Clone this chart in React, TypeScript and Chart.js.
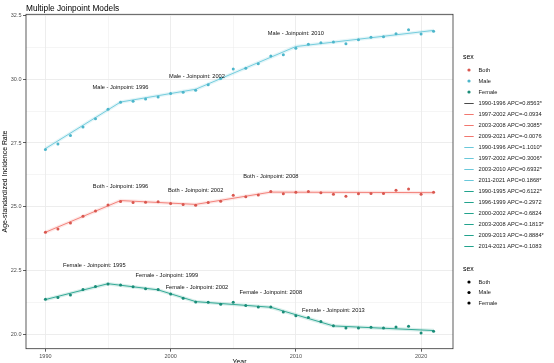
import React, { useEffect, useRef } from "react";
import { Chart, registerables } from "chart.js";

Chart.register(...registerables);

const FONT = '"Liberation Sans", Arial, Helvetica, sans-serif';

// ---- observed rates ----
const years = [1990, 1991, 1992, 1993, 1994, 1995, 1996, 1997, 1998, 1999, 2000, 2001, 2002, 2003, 2004, 2005, 2006, 2007, 2008, 2009, 2010, 2011, 2012, 2013, 2014, 2015, 2016, 2017, 2018, 2019, 2020, 2021];
const bothRates = [24.01, 24.14, 24.37, 24.64, 24.84, 25.08, 25.21, 25.17, 25.18, 25.2, 25.14, 25.1, 25.07, 25.17, 25.22, 25.46, 25.4, 25.47, 25.6, 25.52, 25.57, 25.6, 25.56, 25.5, 25.42, 25.52, 25.53, 25.53, 25.65, 25.7, 25.5, 25.57];
const maleRates = [27.25, 27.46, 27.79, 28.13, 28.45, 28.82, 29.09, 29.13, 29.22, 29.3, 29.43, 29.48, 29.56, 29.78, 30.02, 30.39, 30.42, 30.6, 30.9, 30.95, 31.2, 31.36, 31.42, 31.45, 31.38, 31.54, 31.63, 31.65, 31.77, 31.93, 31.76, 31.87];
const femaleRates = [21.39, 21.46, 21.56, 21.77, 21.89, 21.99, 21.95, 21.88, 21.8, 21.77, 21.6, 21.43, 21.29, 21.28, 21.2, 21.28, 21.15, 21.09, 21.09, 20.89, 20.75, 20.68, 20.52, 20.36, 20.27, 20.27, 20.3, 20.27, 20.31, 20.34, 20.07, 20.14];

// ---- fitted joinpoint models (values at segment ends) ----
const bothKnotYears = [1990, 1996, 2002, 2008, 2021];
const bothFitted = [24.01, 25.25, 25.1, 25.58, 25.56];
const maleKnotYears = [1990, 1996, 2002, 2010, 2021];
const maleFitted = [27.28, 29.1, 29.6, 31.27, 31.9];
const femaleKnotYears = [1990, 1995, 1999, 2002, 2008, 2013, 2021];
const femaleFitted = [21.38, 22.0, 21.76, 21.3, 21.08, 20.35, 20.17];

const bothSegmentLabels = ["1990-1996 APC=0.8563*", "1997-2002 APC=-0.0934", "2003-2008 APC=0.3085*", "2009-2021 APC=-0.0076"];
const maleSegmentLabels = ["1990-1996 APC=1.1010*", "1997-2002 APC=0.3006*", "2003-2010 APC=0.6932*", "2011-2021 APC=0.1868*"];
const femaleSegmentLabels = ["1990-1995 APC=0.6122*", "1996-1999 APC=-0.2972", "2000-2002 APC=-0.6824", "2003-2008 APC=-0.1813*", "2009-2013 APC=-0.8884*", "2014-2021 APC=-0.1083"];

const sexes = ["Both", "Male", "Female"];

// ---- joinpoint annotations ----
const noteTexts = [
  "Male - Joinpoint: 1996", "Male - Joinpoint: 2002", "Male - Joinpoint: 2010",
  "Both - Joinpoint: 1996", "Both - Joinpoint: 2002", "Both - Joinpoint: 2008",
  "Female - Joinpoint: 1995", "Female - Joinpoint: 1999", "Female - Joinpoint: 2002", "Female - Joinpoint: 2008", "Female - Joinpoint: 2013",
];
const noteYears = [1996, 2002.1, 2010, 1996, 2002, 2008, 1993.9, 1999.7, 2002.1, 2008, 2013];
const noteRates = [29.66, 30.12, 31.79, 25.79, 25.65, 26.21, 22.73, 22.32, 21.85, 21.67, 20.96];

// ---- axes ----
const xTickValues = [1990, 1995, 2000, 2005, 2010, 2015, 2020];
const yTickValues = [20, 21.25, 22.5, 23.75, 25, 26.25, 27.5, 28.75, 30, 31.25, 32.5];

const COL_BOTH = "#F2776F";
const COL_MALE = "#69C8DA";
const COL_FEMALE = "#22A38D";
const BAND_BOTH = "rgba(242,119,111,0.16)";
const BAND_MALE = "rgba(105,200,218,0.18)";
const BAND_FEMALE = "rgba(34,163,141,0.18)";
const PT_BOTH = "#D9574F";
const PT_MALE = "#4DB6CB";
const PT_FEMALE = "#1A8C78";

const legendKeyColors = [
  "#4a4a4a", COL_BOTH, COL_BOTH, COL_BOTH,
  COL_MALE, COL_MALE, COL_MALE, COL_MALE,
  COL_FEMALE, COL_FEMALE, COL_FEMALE, COL_FEMALE, COL_FEMALE, COL_FEMALE,
];

function pts(xs: number[], ys: number[]) {
  return xs.map((x, i) => ({ x, y: ys[i] }));
}

function segments(knots: number[], fit: number[], color: string) {
  const out: any[] = [];
  for (let i = 0; i < knots.length - 1; i++) {
    out.push({
      type: "line",
      data: [{ x: knots[i], y: fit[i] }, { x: knots[i + 1], y: fit[i + 1] }],
      borderColor: color,
      borderWidth: 0.9,
      pointRadius: 0,
      tension: 0,
      order: 2,
    });
  }
  return out;
}

function band(knots: number[], fit: number[], color: string) {
  return {
    type: "line",
    data: pts(knots, fit),
    borderColor: color,
    borderWidth: 3.5,
    pointRadius: 0,
    tension: 0,
    order: 3,
  };
}

function scatter(ys: number[], color: string) {
  return {
    type: "line",
    data: pts(years, ys),
    showLine: false,
    pointRadius: 1.5,
    pointBorderWidth: 0,
    pointBackgroundColor: color,
    borderColor: color,
    order: 1,
  };
}

const isMajorY = (v: number) => Math.abs(v / 2.5 - Math.round(v / 2.5)) < 1e-6;
const isMajorX = (v: number) => Math.abs(v % 10) < 1e-6;

const overlay = {
  id: "overlay",
  afterDatasetsDraw(chart: any) {
    const { ctx, chartArea, scales } = chart;
    const x = scales.x;
    const y = scales.y;
    ctx.save();
    ctx.font = `5.7px ${FONT}`;
    ctx.fillStyle = "#111";
    ctx.textAlign = "center";
    ctx.textBaseline = "middle";
    noteTexts.forEach((t, i) => {
      ctx.fillText(t, x.getPixelForValue(noteYears[i]), y.getPixelForValue(noteRates[i]));
    });
    ctx.strokeStyle = "#333";
    ctx.lineWidth = 0.8;
    ctx.strokeRect(chartArea.left, chartArea.top, chartArea.right - chartArea.left, chartArea.bottom - chartArea.top);
    ctx.restore();
  },
  afterDraw(chart: any) {
    const { ctx } = chart;
    ctx.save();
    // title
    ctx.font = `8.3px ${FONT}`;
    ctx.fillStyle = "#000";
    ctx.textAlign = "left";
    ctx.textBaseline = "alphabetic";
    ctx.fillText("Multiple Joinpoint Models", 26, 10.5);

    // legend 1
    const keyX = 469;
    const textX = 478.5;
    ctx.textBaseline = "middle";
    ctx.font = `6.9px ${FONT}`;
    ctx.fillStyle = "#000";
    ctx.fillText("sex", 463, 57);
    ctx.font = `5.7px ${FONT}`;
    const ptCols = [PT_BOTH, PT_MALE, PT_FEMALE];
    let row = 0;
    const rowY = (r: number) => 70 + r * 11;
    sexes.forEach((s, i) => {
      const yy = rowY(row++);
      ctx.fillStyle = ptCols[i];
      ctx.beginPath();
      ctx.arc(keyX, yy, 1.6, 0, Math.PI * 2);
      ctx.fill();
      ctx.fillStyle = "#1a1a1a";
      ctx.fillText(s, textX, yy);
    });
    const segLabels = [...bothSegmentLabels, ...maleSegmentLabels, ...femaleSegmentLabels];
    segLabels.forEach((s, i) => {
      const yy = Math.round(rowY(row++)) + 0.5;
      ctx.strokeStyle = legendKeyColors[i];
      ctx.lineWidth = 1;
      ctx.beginPath();
      ctx.moveTo(464.3, yy);
      ctx.lineTo(473.7, yy);
      ctx.stroke();
      ctx.fillStyle = "#1a1a1a";
      ctx.fillText(s, textX, yy);
    });

    // legend 2
    ctx.font = `6.9px ${FONT}`;
    ctx.fillStyle = "#000";
    ctx.fillText("sex", 463, 269);
    ctx.font = `5.7px ${FONT}`;
    sexes.forEach((s, i) => {
      const yy = 282 + i * 10.5;
      ctx.fillStyle = "#000";
      ctx.beginPath();
      ctx.arc(keyX, yy, 1.6, 0, Math.PI * 2);
      ctx.fill();
      ctx.fillStyle = "#1a1a1a";
      ctx.fillText(s, textX, yy);
    });
    ctx.restore();
  },
};

export default function App() {
  const canvasRef = useRef<HTMLCanvasElement | null>(null);

  useEffect(() => {
    document.body.style.margin = "0";
    const canvas = canvasRef.current;
    if (!canvas) return;
    const datasets: any[] = [
      band(bothKnotYears, bothFitted, BAND_BOTH),
      band(maleKnotYears, maleFitted, BAND_MALE),
      band(femaleKnotYears, femaleFitted, BAND_FEMALE),
      ...segments(bothKnotYears, bothFitted, COL_BOTH),
      ...segments(maleKnotYears, maleFitted, COL_MALE),
      ...segments(femaleKnotYears, femaleFitted, COL_FEMALE),
      scatter(bothRates, PT_BOTH),
      scatter(maleRates, PT_MALE),
      scatter(femaleRates, PT_FEMALE),
    ];
    const chart = new Chart(canvas, {
      type: "line",
      data: { datasets },
      plugins: [overlay],
      options: {
        animation: false,
        responsive: true,
        maintainAspectRatio: false,
        layout: { padding: { left: 0, right: 101, top: 14.3, bottom: 0 } },
        plugins: {
          legend: { display: false },
          tooltip: { enabled: false },
          title: { display: false },
        },
        font: { family: FONT },
        scales: {
          x: {
            type: "linear",
            min: 1988.45,
            max: 2022.55,
            afterBuildTicks: (scale: any) => {
              scale.ticks = xTickValues.map((v) => ({ value: v }));
            },
            afterFit: (scale: any) => {
              scale.height = 14.3;
            },
            border: { display: false },
            grid: {
              color: "#EBEBEB",
              lineWidth: (c: any) => (isMajorX(c.tick.value) ? 0.9 : 0.5),
              tickColor: (c: any) => (isMajorX(c.tick.value) ? "#333" : "rgba(0,0,0,0)"),
              tickLength: 3,
              tickWidth: 0.8,
            },
            ticks: {
              color: "#4D4D4D",
              font: { size: 5.5, family: FONT },
              padding: 1,
              maxRotation: 0,
              autoSkip: false,
              callback: (v: any) => (isMajorX(Number(v)) ? String(v) : ""),
            },
            title: {
              display: true,
              text: "Year",
              color: "#000",
              font: { size: 6.9, family: FONT },
              padding: { top: 0, bottom: -3.5 },
            },
          },
          y: {
            type: "linear",
            min: 19.46,
            max: 32.53,
            afterBuildTicks: (scale: any) => {
              scale.ticks = yTickValues.map((v) => ({ value: v }));
            },
            afterFit: (scale: any) => {
              scale.width = 26;
            },
            border: { display: false },
            grid: {
              color: "#EBEBEB",
              lineWidth: (c: any) => (isMajorY(c.tick.value) ? 0.9 : 0.5),
              tickColor: (c: any) => (isMajorY(c.tick.value) ? "#333" : "rgba(0,0,0,0)"),
              tickLength: 3,
              tickWidth: 0.8,
            },
            ticks: {
              color: "#4D4D4D",
              font: { size: 5.5, family: FONT },
              padding: 1.5,
              autoSkip: false,
              callback: (v: any) => (isMajorY(Number(v)) ? Number(v).toFixed(1) : ""),
            },
            title: {
              display: true,
              text: "Age-standardized Incidence Rate",
              color: "#000",
              font: { size: 6.9, family: FONT },
              padding: { top: 1.3, bottom: 0 },
            },
          },
        },
      } as any,
    });
    return () => chart.destroy();
  }, []);

  return (
    <div style={{ position: "relative", width: 554, height: 363 }}>
      <canvas ref={canvasRef} />
    </div>
  );
}
